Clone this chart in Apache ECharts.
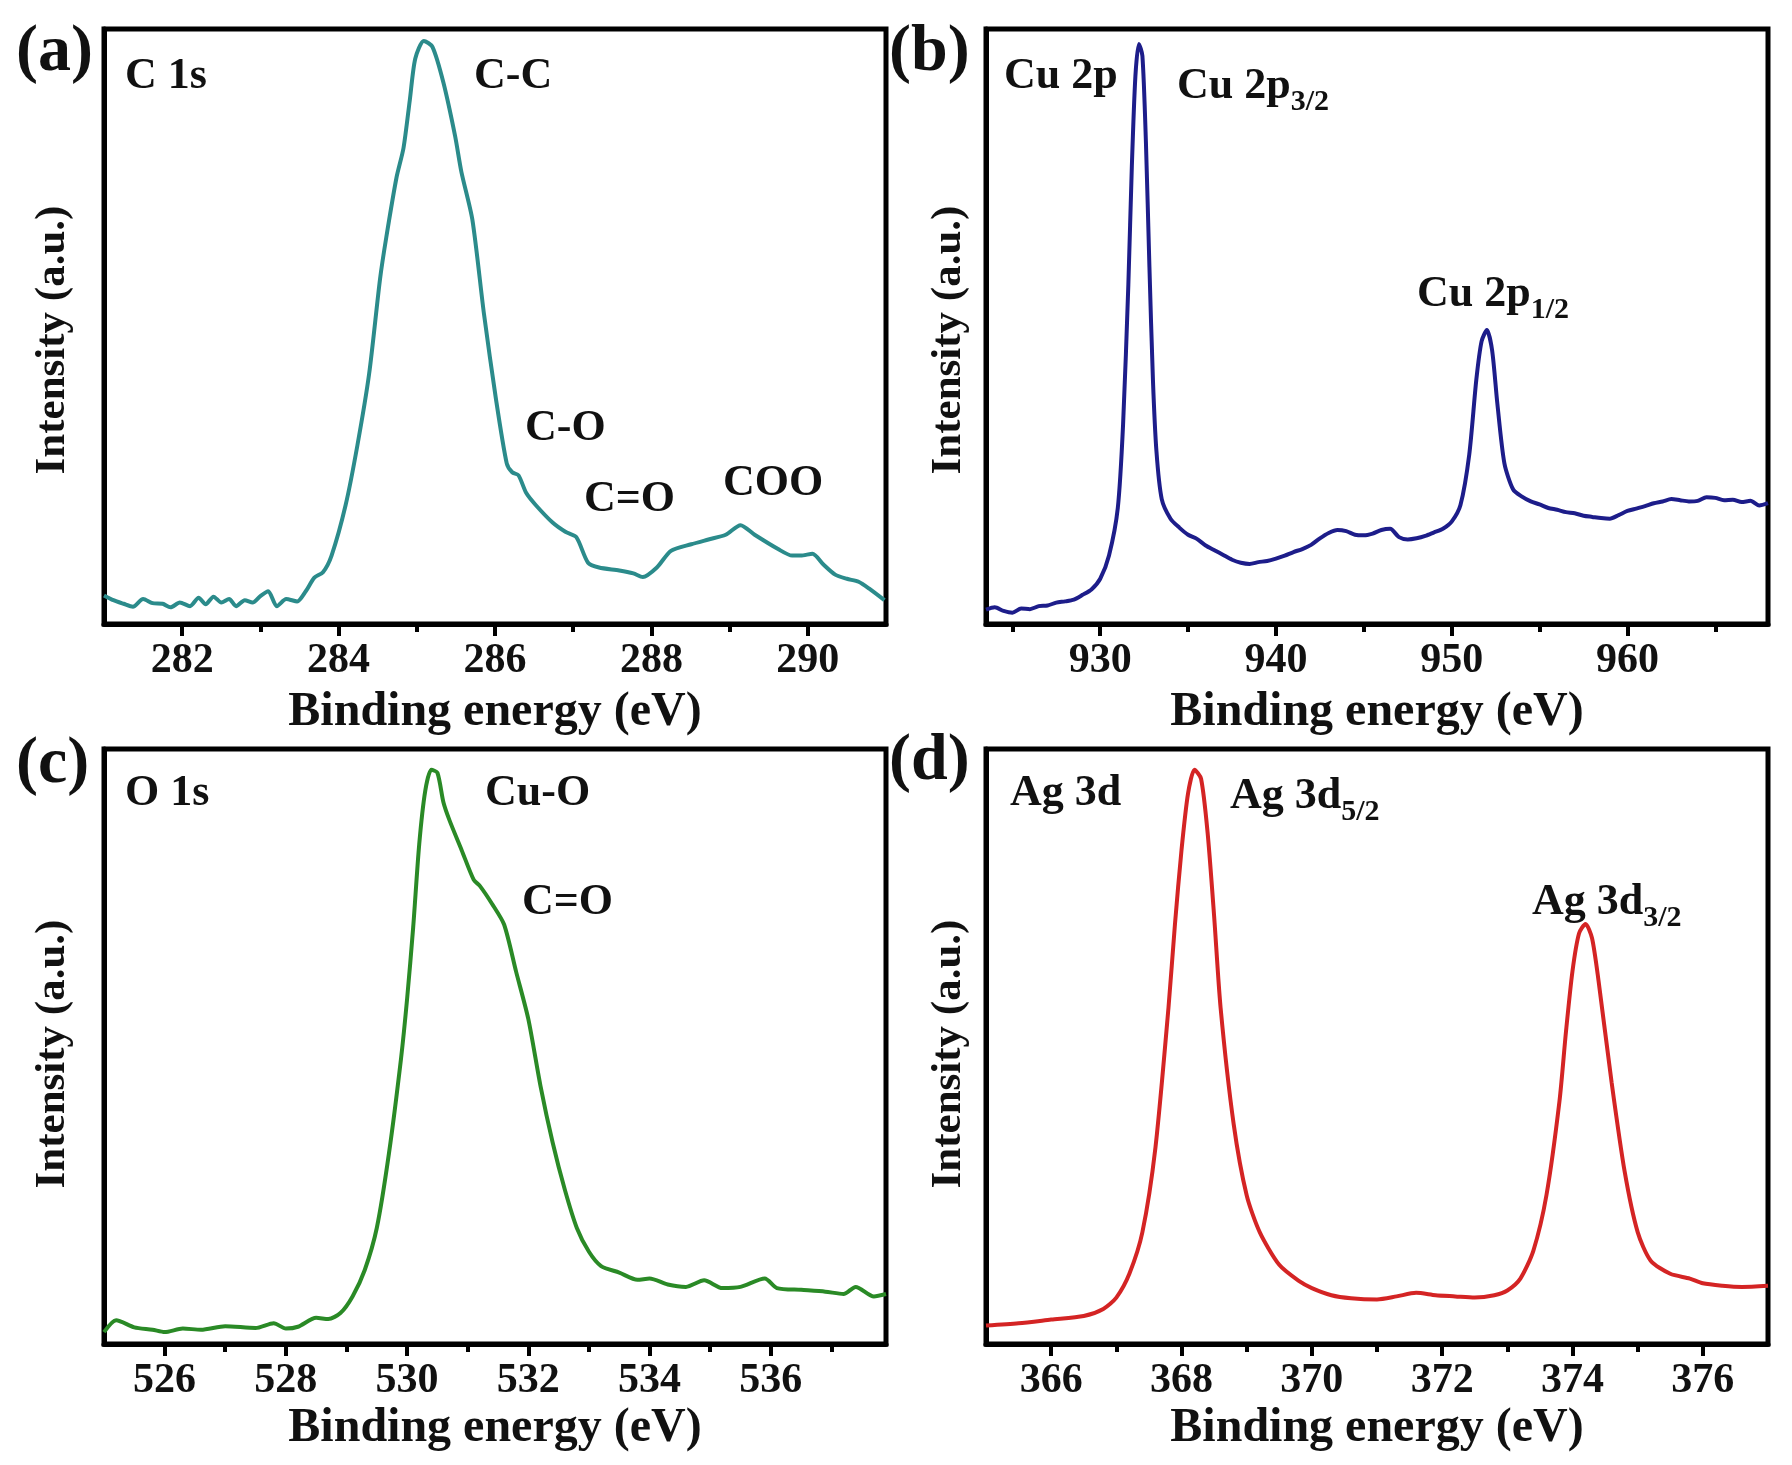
<!DOCTYPE html>
<html>
<head>
<meta charset="utf-8">
<title>XPS spectra</title>
<script src="https://cdn.jsdelivr.net/npm/echarts@6/dist/echarts.min.js"></script>
<style>
  html, body { margin: 0; padding: 0; background: #fff; }
  #chart { width: 1792px; height: 1465px; }
</style>
</head>
<body>
<div id="chart"></div>
<script>
// (a) C 1s
var c1sEnergy = [281.0, 281.12, 281.25, 281.37, 281.5, 281.62, 281.75, 281.85, 281.97, 282.1, 282.21, 282.3, 282.4, 282.5, 282.6, 282.69, 282.8, 282.9, 283.0, 283.1, 283.21, 283.33, 283.47, 283.58, 283.69, 283.8, 283.91, 284.09, 284.24, 284.39, 284.53, 284.61, 284.74, 284.83, 284.91, 284.98, 285.09, 285.2, 285.34, 285.49, 285.57, 285.71, 285.86, 286.01, 286.15, 286.22, 286.3, 286.4, 286.52, 286.74, 286.9, 287.04, 287.19, 287.33, 287.59, 287.77, 287.89, 288.07, 288.25, 288.51, 288.73, 288.95, 289.14, 289.32, 289.62, 289.8, 289.91, 290.06, 290.2, 290.35, 290.5, 290.65, 290.79, 290.98];
var c1sIntensity = [4.8, 4.0, 3.4, 2.9, 4.2, 3.5, 3.4, 2.8, 3.6, 3.0, 4.4, 3.3, 4.6, 3.6, 4.2, 3.0, 4.0, 3.6, 4.7, 5.5, 3.0, 4.2, 3.8, 5.5, 7.8, 8.7, 11.5, 20, 30, 42, 58, 65, 75, 80, 88, 95, 98, 97, 91, 82, 76, 68, 52, 38, 27, 25.5, 25, 22, 20, 17, 15.5, 14.6, 10.3, 9.5, 9.0, 8.5, 7.9, 9.5, 12.3, 13.4, 14.2, 15, 16.6, 15, 12.6, 11.5, 11.5, 11.8, 10, 8.3, 7.6, 7.1, 5.9, 4];
var c1sTicks = [282, 284, 286, 288, 290];
var c1sMinorTicks = [283, 285, 287, 289];

// (b) Cu 2p
var cu2pEnergy = [923.5, 924, 924.5, 925, 925.5, 926, 926.5, 927, 927.5, 928, 928.5, 929, 929.5, 930, 930.5, 931, 931.3, 931.6, 931.8, 932.0, 932.2, 932.4, 932.6, 932.8, 933.0, 933.2, 933.5, 934, 934.5, 935, 935.5, 936, 936.5, 937, 937.5, 938, 938.5, 939, 939.5, 940, 940.5, 941, 941.5, 942, 942.5, 943, 943.5, 944, 944.5, 945, 945.5, 946, 946.5, 947, 947.5, 948, 948.5, 949, 949.5, 950, 950.5, 951, 951.4, 951.7, 952, 952.3, 952.6, 953, 953.5, 954, 954.5, 955, 955.5, 956, 956.5, 957, 957.5, 958, 958.5, 959, 959.5, 960, 960.5, 961, 961.5, 962, 962.5, 963, 963.5, 964, 964.5, 965, 965.5, 966, 966.5, 967, 967.5, 968];
var cu2pIntensity = [2.4, 2.8, 2.2, 1.9, 2.6, 2.5, 3.0, 3.1, 3.6, 3.8, 4.1, 4.9, 5.8, 7.6, 11.5, 19.5, 33.5, 57, 77, 92, 97.5, 95.5, 81, 60, 41, 29, 21, 17.7, 16.2, 15, 14.3, 13.2, 12.4, 11.6, 10.8, 10.3, 10.1, 10.4, 10.6, 11, 11.5, 12.1, 12.6, 13.3, 14.4, 15.3, 15.8, 15.6, 15.0, 14.9, 15.2, 15.8, 16.0, 14.6, 14.2, 14.4, 14.8, 15.4, 16.0, 17.2, 20, 28.5, 41, 47.5, 49.4, 46, 37, 27, 22.6, 21.4, 20.6, 20.1, 19.5, 19.2, 18.8, 18.6, 18.2, 18.0, 17.8, 17.7, 18.3, 19, 19.4, 19.8, 20.3, 20.6, 21.0, 20.8, 20.6, 20.7, 21.3, 21.2, 20.8, 20.9, 20.5, 20.7, 19.9, 20.3];
var cu2pTicks = [930, 940, 950, 960];
var cu2pMinorTicks = [925, 935, 945, 955, 965];

// (c) O 1s
var o1sEnergy = [525.0, 525.2, 525.5, 525.8, 526.0, 526.3, 526.6, 527.0, 527.5, 527.8, 528.0, 528.2, 528.5, 528.7, 528.9, 529.1, 529.3, 529.5, 529.7, 529.9, 530.0, 530.1, 530.2, 530.3, 530.4, 530.5, 530.6, 530.7, 530.9, 531.1, 531.2, 531.4, 531.6, 531.8, 532.0, 532.2, 532.4, 532.6, 532.8, 533.0, 533.2, 533.5, 533.8, 534.0, 534.3, 534.6, 534.9, 535.2, 535.5, 535.9, 536.1, 536.5, 536.9, 537.2, 537.4, 537.7, 537.9];
var o1sIntensity = [2.0, 4.0, 2.8, 2.4, 2.0, 2.6, 2.4, 3.0, 2.7, 3.5, 2.6, 2.9, 4.4, 4.2, 5.2, 8, 12.4, 19.5, 32, 48, 58, 70, 84, 93, 96.5, 96, 91, 88, 83, 78, 77, 74, 70.5, 62.5, 54.6, 43.4, 33.9, 26, 19.5, 15.5, 13.1, 12, 10.8, 11, 10, 9.6, 10.7, 9.4, 9.6, 11, 9.4, 9.1, 8.8, 8.4, 9.6, 8, 8.4];
var o1sTicks = [526, 528, 530, 532, 534, 536];
var o1sMinorTicks = [527, 529, 531, 533, 535, 537];

// (d) Ag 3d
var ag3dEnergy = [365.0, 365.5, 366.0, 366.5, 366.8, 367.0, 367.2, 367.4, 367.6, 367.8, 367.9, 368.0, 368.1, 368.2, 368.3, 368.4, 368.5, 368.6, 368.8, 369.0, 369.2, 369.5, 369.8, 370.0, 370.3, 370.6, 371.0, 371.3, 371.6, 371.9, 372.2, 372.5, 372.8, 373.0, 373.2, 373.4, 373.6, 373.8, 373.9, 374.0, 374.1, 374.2, 374.3, 374.4, 374.6, 374.8, 375.0, 375.2, 375.5, 375.8, 376.0, 376.3, 376.6, 377.0];
var ag3dIntensity = [3.1, 3.5, 4.1, 4.7, 5.9, 7.8, 11.8, 18.8, 33, 56.5, 70.6, 83, 92.5, 96.5, 95, 86, 72, 56.5, 37, 25, 18.8, 13.3, 10.6, 9.4, 8.2, 7.7, 7.5, 8, 8.6, 8.2, 8, 7.8, 8.2, 9, 11, 15.7, 25, 40.8, 52.5, 62.7, 69, 70.6, 68.2, 61, 44, 29, 18.8, 14, 11.8, 11, 10.2, 9.8, 9.6, 9.8];
var ag3dTicks = [366, 368, 370, 372, 374, 376];
var ag3dMinorTicks = [367, 369, 371, 373, 375];

var FONT = '"Liberation Serif", "Times New Roman", serif';

function pairs(xs, ys) {
  return xs.map(function (x, i) { return [x, ys[i]]; });
}

var panels = [
  { left: 104, top: 29, min: 281, max: 291, ticks: c1sTicks, minor: c1sMinorTicks, color: '#2b8b8b', data: pairs(c1sEnergy, c1sIntensity), nameGap: 65 },
  { left: 986, top: 29, min: 923.5, max: 968, ticks: cu2pTicks, minor: cu2pMinorTicks, color: '#1d1d8a', data: pairs(cu2pEnergy, cu2pIntensity), nameGap: 65 },
  { left: 104, top: 749, min: 525, max: 537.9, ticks: o1sTicks, minor: o1sMinorTicks, color: '#2a8a26', data: pairs(o1sEnergy, o1sIntensity), nameGap: 61 },
  { left: 986, top: 749, min: 365, max: 377, ticks: ag3dTicks, minor: ag3dMinorTicks, color: '#d42424', data: pairs(ag3dEnergy, ag3dIntensity), nameGap: 61 }
];

var grids = [], xAxes = [], yAxes = [], series = [];
panels.forEach(function (p, i) {
  grids.push({
    left: p.left, top: p.top, width: 782, height: 595,
    show: true, borderColor: '#000', borderWidth: 5, backgroundColor: 'transparent'
  });
  // main axis: labels + long ticks
  xAxes.push({
    type: 'value', gridIndex: i, min: p.min, max: p.max, position: 'bottom',
    name: 'Binding energy (eV)', nameLocation: 'middle', nameGap: p.nameGap,
    nameTextStyle: { fontFamily: FONT, fontWeight: 'bold', fontSize: 48, color: '#111' },
    axisLine: { show: true, lineStyle: { color: '#000', width: 5 } },
    axisTick: { show: true, length: 12, lineStyle: { color: '#000', width: 4 }, customValues: p.ticks },
    axisLabel: { show: true, margin: 16, fontFamily: FONT, fontWeight: 'bold', fontSize: 42, color: '#111', customValues: p.ticks },
    splitLine: { show: false }
  });
  yAxes.push({
    type: 'value', gridIndex: i, min: 0, max: 100,
    axisLine: { show: true, lineStyle: { color: '#000', width: 5 } },
    axisTick: { show: false }, axisLabel: { show: false }, splitLine: { show: false }
  });
  series.push({
    type: 'line', xAxisIndex: i, yAxisIndex: i, data: p.data,
    showSymbol: false, smooth: 0.25, clip: true,
    lineStyle: { color: p.color, width: 4 }
  });
});
// minor (short) ticks
panels.forEach(function (p, i) {
  xAxes.push({
    type: 'value', gridIndex: i, min: p.min, max: p.max, position: 'bottom',
    axisLine: { show: false },
    axisTick: { show: true, length: 8, lineStyle: { color: '#000', width: 4 }, customValues: p.minor },
    axisLabel: { show: false }, splitLine: { show: false }
  });
});

var measure = document.createElement('canvas').getContext('2d');
function textWidth(s, size) {
  measure.font = 'bold ' + size + 'px ' + FONT;
  return measure.measureText(s).width;
}

var graphics = [];
function label(x, y, s, size) {
  graphics.push({
    type: 'text', z: 10,
    style: { x: x, y: y, text: s, fill: '#111', font: 'bold ' + size + 'px ' + FONT, verticalAlign: 'middle', align: 'left' }
  });
}
function subLabel(x, y, main, sub) {
  label(x, y, main, 44);
  label(x + textWidth(main, 44), y + 15, sub, 30);
}
function yTitle(x, y) {
  graphics.push({
    type: 'text', z: 10, x: x, y: y, rotation: Math.PI / 2,
    style: { text: 'Intensity (a.u.)', fill: '#111', font: 'bold 43px ' + FONT, verticalAlign: 'middle', align: 'center' }
  });
}

// panel letters
label(16, 53, '(a)', 66);
label(889, 53, '(b)', 66);
label(16, 765, '(c)', 66);
label(889, 762, '(d)', 66);

// y titles
yTitle(53, 340);
yTitle(949, 340);
yTitle(53, 1054);
yTitle(949, 1054);

// peak annotations
label(125, 77, 'C 1s', 44);
label(474, 77, 'C-C', 44);
label(525, 429, 'C-O', 44);
label(584, 500, 'C=O', 44);
label(723, 484, 'COO', 44);

label(1004, 77, 'Cu 2p', 44);
subLabel(1177, 87, 'Cu 2p', '3/2');
subLabel(1417, 295, 'Cu 2p', '1/2');

label(125, 794, 'O 1s', 44);
label(485, 794, 'Cu-O', 44);
label(522, 903, 'C=O', 44);

label(1010, 794, 'Ag 3d', 44);
subLabel(1230, 797, 'Ag 3d', '5/2');
subLabel(1532, 903, 'Ag 3d', '3/2');

var chart = echarts.init(document.getElementById('chart'), null, { renderer: 'canvas' });
chart.setOption({
  backgroundColor: '#fff',
  animation: false,
  grid: grids,
  xAxis: xAxes,
  yAxis: yAxes,
  series: series,
  graphic: graphics
});
</script>
</body>
</html>
